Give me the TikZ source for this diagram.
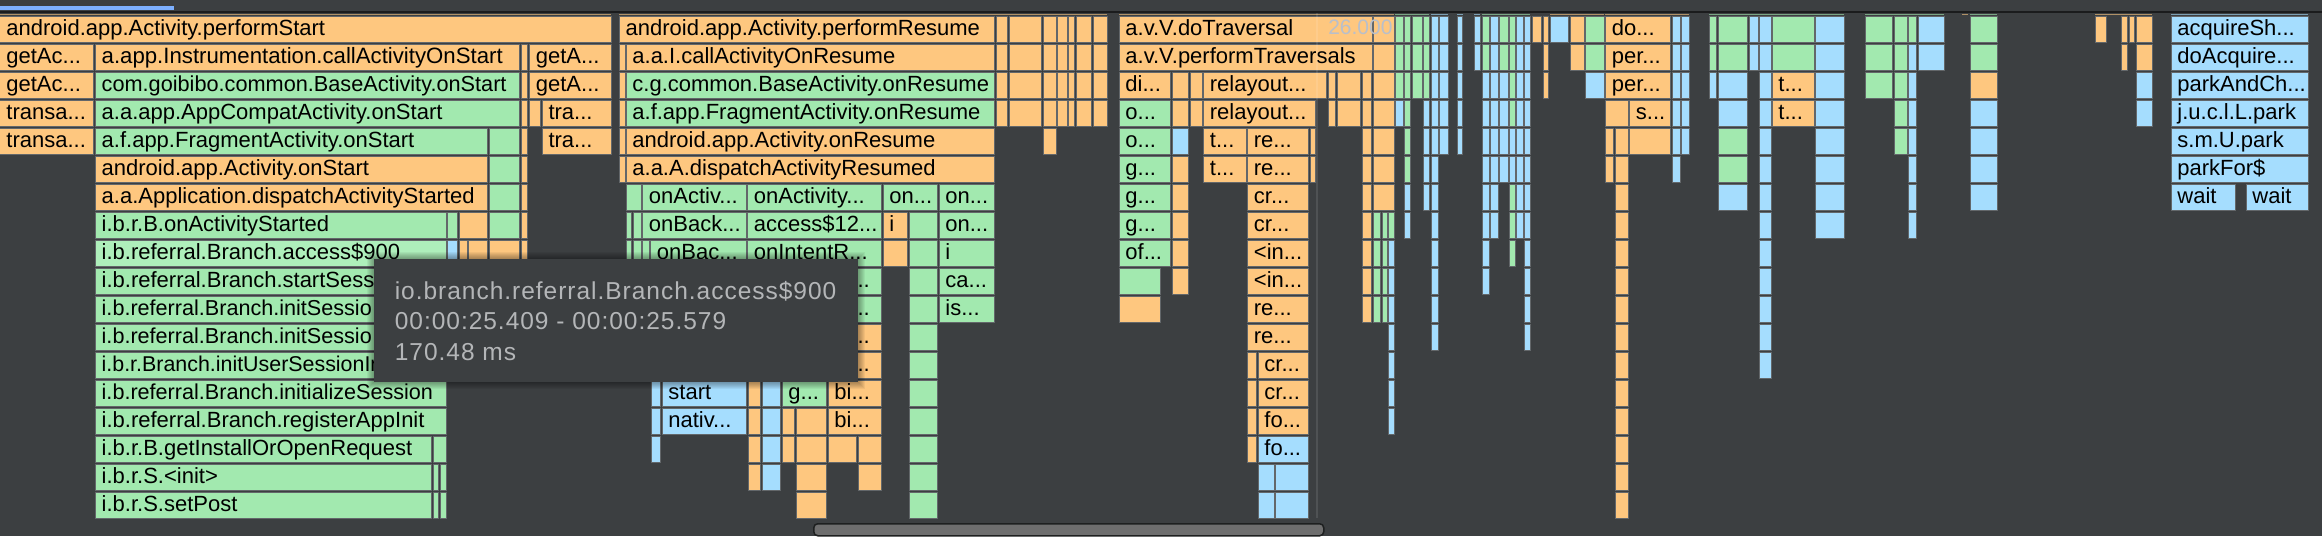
\documentclass[tikz,border=0pt]{standalone}
\usepackage{fontspec}
\setmainfont{Liberation Sans}
\newfontfamily\tipfont[LetterSpace=4]{Liberation Sans}
\definecolor{bgc}{HTML}{3C3F41}
\definecolor{co}{HTML}{FEC77F}
\definecolor{cg}{HTML}{A2E9AF}
\definecolor{ch}{HTML}{AEEFBB}
\definecolor{cb}{HTML}{A5DDFE}
\definecolor{edgec}{HTML}{63676A}
\definecolor{tipt}{HTML}{B4B6B8}
\definecolor{rulert}{HTML}{B8BFCB}
\definecolor{thumbc}{HTML}{6E6E6E}
\newcounter{barno}
\tikzset{
  barbox/.style={draw=edgec,line width=1pt,rectangle,anchor=north west,outer sep=0pt,inner sep=0pt,minimum height=26.8pt},
  barlab/.style={barbox,inner xsep=6.4pt,inner ysep=3pt,text height=16.6pt,text depth=4.2pt,align=left,font=\fontsize{22}{24}\selectfont,text=black},
  tipline/.style={anchor=base west,inner sep=0pt,text=tipt,font=\fontsize{24.5}{28}\tipfont}
}
\newcommand{\fs}[2]{{\fontsize{#1}{24}\selectfont #2}}
\newcommand{\fb}[4]{\stepcounter{barno}\pgfmathsetmacro\bw{#2-#1}\pgfmathsetmacro\by{16+28*#3}%
  \node[barbox,fill=#4,minimum width=\bw pt] (bar\thebarno) at (#1,\by) {};}
\newcommand{\lb}[5]{\stepcounter{barno}\pgfmathsetmacro\bw{#2-#1}\pgfmathsetmacro\tw{#2-#1-12.8}\pgfmathsetmacro\by{16+28*#3}%
  \node[barlab,fill=#4,text width=\tw pt] (bar\thebarno) at (#1,\by) {#5};}
\newcommand{\rw}[2]{\foreach \xa/\xb/\xc in {#2}{\fb{\xa}{\xb}{#1}{\xc}}}
\newcommand{\ts}[3]{\draw[#3!60!bgc,line width=1pt] (#1,14.6) -- (#2,14.6);}
\begin{document}
\begin{tikzpicture}[x=1pt,y=-1pt]
\useasboundingbox (0,0) rectangle (2322,536);
\fill[bgc] (0,0) rectangle (2322,536);
\fill[black!55!bgc] (0,11) rectangle (2322,12.6);
\fill[color={rgb,255:red,125;green,176;blue,255}] (0,6) rectangle (174,10);
\ts{0}{611}{co}\ts{619}{1107}{co}\ts{1119}{1394}{co}\ts{1395}{1429}{cg}\ts{1431}{1448}{cb}\ts{1457}{1463}{cb}\ts{1474}{1480}{cb}\ts{1482}{1530}{cg}\ts{1550}{1604}{co}\ts{1605}{1689}{co}\ts{1709}{1844}{cg}\ts{1865}{1944}{cg}\ts{1962}{1968}{co}\ts{1970}{1997}{cg}\ts{2095}{2152}{co}\ts{2171}{2308}{cb}
\begin{scope}
\clip (0,13) rectangle (2322,518);
% left block
\lb{-2}{611.3}{0}{co}{\hspace{2pt}android.app.Activity.performStart}
\lb{-2}{93.3}{1}{co}{\hspace{2pt}getAc...}
\lb{95.3}{519.2}{1}{co}{\fs{22.2}{a.app.Instrumentation.callActivityOnStart}}
\lb{529.5}{611.3}{1}{co}{getA...}
\lb{-2}{93.3}{2}{co}{\hspace{2pt}getAc...}
\lb{95.3}{519.2}{2}{cg}{\fs{21.7}{com.goibibo.common.BaseActivity.onStart}}
\lb{529.5}{611.3}{2}{co}{getA...}
\lb{-2}{93.3}{3}{co}{\hspace{2pt}transa...}
\lb{95.3}{519.2}{3}{cg}{a.a.app.AppCompatActivity.onStart}
\lb{542.1}{611.3}{3}{co}{tra...}
\lb{-2}{93.3}{4}{co}{\hspace{2pt}transa...}
\lb{95.3}{487.1}{4}{cg}{a.f.app.FragmentActivity.onStart}
\lb{542.1}{611.3}{4}{co}{tra...}
\lb{95.3}{487.1}{5}{co}{android.app.Activity.onStart}
\lb{95.3}{487.1}{6}{co}{a.a.Application.dispatchActivityStarted}
\lb{95.3}{446}{7}{cg}{i.b.r.B.onActivityStarted}
\lb{95.3}{446}{8}{ch}{i.b.referral.Branch.access\$900}
\lb{95.3}{446}{9}{cg}{i.b.referral.Branch.startSess}
\lb{95.3}{446}{10}{cg}{\fs{21.6}{i.b.referral.Branch.initSessio}}
\lb{95.3}{446}{11}{cg}{\fs{21.6}{i.b.referral.Branch.initSessio}}
\lb{95.3}{446}{12}{cg}{\fs{21.4}{i.b.r.Branch.initUserSessionIn}}
\lb{95.3}{446}{13}{cg}{\fs{21.6}{i.b.referral.Branch.initializeSession}}
\lb{95.3}{446}{14}{cg}{i.b.referral.Branch.registerAppInit}
\lb{95.3}{431.8}{15}{cg}{i.b.r.B.getInstallOrOpenRequest}
\lb{95.3}{431.8}{16}{cg}{i.b.r.S.<init>}
\lb{95.3}{431.8}{17}{cg}{i.b.r.S.setPost}
\rw{1}{521.2/527.9/co}
\rw{2}{521.2/527.9/co}
\rw{3}{521.2/527.9/co,529.5/540.5/co}
\rw{4}{489.1/519.2/cg,521.2/527.9/co}
\rw{5}{489.1/519.2/cg,521.2/527.9/co}
\rw{6}{489.1/519.2/cg,521.2/527.9/co}
\rw{7}{447.6/457.9/cg,459.5/487.1/co,489.1/519.2/cg,521.2/527.9/co}
\rw{8}{447.6/457.9/cb,459.5/467.1/co,468.5/487.1/co,489.1/519.2/co,521.2/527.9/co}
\rw{15}{433.4/446/cg}
\rw{16}{433.4/438.9/cg,440.5/446/cg}
\rw{17}{433.4/438.9/cg,440.5/446/cg}
% resume block
\lb{619.3}{994}{0}{co}{android.app.Activity.performResume}
\lb{626}{994}{1}{co}{a.a.I.callActivityOnResume}
\lb{626}{994}{2}{cg}{c.g.common.BaseActivity.onResume}
\lb{626}{994}{3}{cg}{a.f.app.FragmentActivity.onResume}
\lb{626}{994}{4}{co}{android.app.Activity.onResume}
\lb{626}{994}{5}{co}{a.a.A.dispatchActivityResumed}
\rw{0}{996/1007/co,1009/1041.5/co,1043/1056/co,1057/1067/co,1068/1074/co,1076/1091/co,1093/1107.5/co}
\rw{1}{619.3/625/co,996/1007/co,1009/1041.5/co,1043/1056/co,1057/1067/co,1068/1074/co,1076/1091/co,1093/1107.5/co}
\rw{2}{619.3/625/co,996/1007/co,1009/1041.5/co,1043/1056/co,1057/1067/co,1068/1074/co,1076/1091/co,1093/1107.5/co}
\rw{3}{619.3/625/co,996/1007/co,1009/1041.5/co,1043/1056/co,1057/1067/co,1068/1074/co,1076/1091/co,1093/1107.5/co}
\rw{4}{619.3/625/co,1043/1056/co}
\rw{5}{619.3/625/co}
\rw{6}{626/641/cg}
\lb{642.5}{746}{6}{cg}{onActiv...}
\lb{747.5}{881}{6}{cg}{onActivity...}
\lb{883}{937}{6}{cg}{on...}
\lb{939}{994}{6}{cg}{on...}
\rw{7}{626/631.5/cg,633/641/cg,909/937/cg}
\lb{642.5}{746}{7}{cg}{onBack...}
\lb{747.5}{881}{7}{cg}{access\$12...}
\lb{883}{907}{7}{co}{i}
\lb{939}{994}{7}{cg}{on...}
\rw{8}{626/631.5/cg,633/641/cg,642.5/649/cg,883/907/co,909/937/cg}
\lb{650.5}{746}{8}{cg}{onBac...}
\lb{747.5}{881}{8}{cg}{onIntentR...}
\lb{939}{994}{8}{cg}{i}
\lb{845}{881}{9}{cg}{...}
\rw{9}{909/937/cg}
\lb{939}{994}{9}{cg}{ca...}
\lb{845}{881}{10}{cg}{...}
\rw{10}{909/937/cg}
\lb{939}{994}{10}{cg}{is...}
\lb{845}{881}{11}{co}{...}
\rw{11}{909/937/cg}
\lb{845}{881}{12}{co}{...}
\rw{12}{909/937/cg}
\rw{13}{651/660/cb,748/760/co,762/780/cb,909/937/cg}
\lb{662}{746}{13}{cb}{start}
\lb{782}{826}{13}{cg}{g...}
\lb{828}{881}{13}{co}{bi...}
\rw{14}{651/660/cb,748/760/co,762/780/cb,782/794.5/co,796/826/co,909/937/cg}
\lb{662}{746}{14}{cb}{nativ...}
\lb{828}{881}{14}{co}{bi...}
\rw{15}{651/660/cb,748/760/co,762/780/cb,782/794.5/co,796/826/co,828/856.5/co,858/881/co,909/937/cg}
\rw{16}{748/760/co,762/780/cb,796/826/co,858/881/co,909/937/cg}
\rw{17}{796/826/co,909/937/cg}
% traversal block
\lb{1119}{1372}{0}{co}{a.v.V.doTraversal}
\lb{1119}{1372}{1}{co}{a.v.V.performTraversals}
\rw{0}{1373.5/1394/co,1395.5/1403/cg,1404.5/1410/cg,1412/1422/cg,1423/1429/cg,1431/1438/cb,1439.5/1448/cb,1457/1462.5/cb,1474/1480/cb,1482/1489/cg,1490/1498/cb,1499.5/1508/cg,1509/1515/cg,1516.5/1523/cb,1524/1530.5/cb,1532/1541/co,1543/1548.5/co,1550.7/1568/cb,1570/1584/co,1585.5/1604/cg,1672/1680/cb,1681.5/1689/cb,1709/1716/cg,1718/1747.5/cg,1749/1758/cb,1759.5/1771/cb,1772/1814/cg,1815.5/1844.5/cb,1865.5/1892/cg,1894/1907/cg,1908/1916.5/cg,1918/1944/cb,1970/1997.5/cg,2095.5/2106/co,2121/2127/co,2129/2134/co,2136.5/2152/co}
\rw{1}{1373.5/1394/co,1395.5/1403/cg,1404.5/1410/cg,1412/1422/cg,1423/1429/cg,1431/1438/cb,1439.5/1448/cb,1457/1462.5/cb,1474/1480/cb,1482/1489/cg,1490/1498/cb,1499.5/1508/cg,1509/1515/cg,1516.5/1523/cb,1524/1530.5/cb,1543/1548.5/co,1570/1584/co,1585.5/1604/cg,1672/1680/cb,1681.5/1689/cb,1709/1716/cg,1718/1747.5/cg,1749/1758/cb,1759.5/1771/cb,1772/1814/cg,1815.5/1844.5/cb,1865.5/1892/cg,1894/1907/cg,1908/1916.5/cb,1918/1944/cb,1970/1997.5/cg,2121/2127/co,2136.5/2152/co}
\lb{1605.5}{1670}{0}{co}{do...}
\lb{1605.5}{1670}{1}{co}{per...}
\lb{1605.5}{1670}{2}{co}{per...}
\lb{2171}{2308}{0}{cb}{acquireSh...}
\lb{2171}{2308}{1}{cb}{doAcquire...}
\lb{2171}{2308}{2}{cb}{parkAndCh...}
\lb{2171}{2308}{3}{cb}{j.u.c.l.L.park}
\lb{2171}{2308}{4}{cb}{s.m.U.park}
\lb{2171}{2308}{5}{cb}{parkFor\$}
\lb{2171}{2235}{6}{cb}{wait}
\lb{2246}{2308}{6}{cb}{wait}
\lb{1119}{1170}{2}{co}{di...}
\lb{1203.5}{1326}{2}{co}{relayout...}
\rw{2}{1172/1188/co,1190/1202/co,1328/1335.5/co,1337/1360/co,1362/1371.5/co,1373.5/1394/co,1395.5/1403/cg,1404.5/1410/cg,1412/1422/cg,1423/1429/cg,1431/1438/cb,1439.5/1448/cb,1457/1462.5/cb,1482/1489/cb,1490/1498/cb,1499.5/1508/cb,1509/1515/cg,1516.5/1523/cb,1524/1530.5/cb,1543/1548.5/co,1585.5/1604/cb,1672/1680/cb,1681.5/1689/cb,1709/1716/cb,1718/1747.5/cb,1759.5/1771/cb,1815.5/1844.5/cb,1865.5/1892/cg,1894/1907/cg,1908/1916.5/cb,1970/1997.5/co,2136.5/2152/cb}
\lb{1772}{1814}{2}{co}{t...}
\lb{1119}{1170}{3}{cg}{o...}
\lb{1203.5}{1315.5}{3}{co}{relayout...}
\lb{1629.5}{1670}{3}{co}{s...}
\lb{1772}{1814}{3}{co}{t...}
\rw{3}{1172/1188/co,1190/1202/co,1328/1335.5/co,1337/1360/co,1362/1371.5/co,1373.5/1394/co,1395.5/1403/cb,1404.5/1410/cg,1423/1429/cb,1431/1438/cb,1439.5/1448/cb,1457/1462.5/cb,1482/1489/cb,1490/1498/cb,1499.5/1508/cb,1509/1515/cg,1516.5/1523/cb,1524/1530.5/cb,1605.5/1628/co,1672/1680/cb,1681.5/1689/cb,1718/1747.5/cb,1759.5/1771/cb,1815.5/1844.5/cb,1894/1907/cg,1908/1916.5/cb,1970/1997.5/cb,2136.5/2152/cb}
\lb{1119}{1170}{4}{cg}{o...}
\lb{1203.5}{1246}{4}{co}{t...}
\lb{1247.5}{1308}{4}{co}{re...}
\rw{4}{1172/1188/cb,1310/1315.5/co,1362/1371.5/co,1373.5/1394/co,1404.5/1410/cg,1423/1429/cb,1431/1438/cb,1439.5/1448/cb,1457/1462.5/cb,1482/1489/cb,1490/1498/cb,1499.5/1508/cb,1509/1515/cb,1516.5/1523/cb,1524/1530.5/cb,1605.5/1613.5/co,1615/1628/co,1629.5/1670/co,1672/1680/cb,1681.5/1689/cb,1718/1747.5/cg,1759.5/1771/cb,1815.5/1844.5/cb,1894/1907/cg,1908/1916.5/cb,1970/1997.5/cb}
\lb{1119}{1170}{5}{cg}{g...}
\lb{1203.5}{1246}{5}{co}{t...}
\lb{1247.5}{1308}{5}{co}{re...}
\rw{5}{1172/1188/co,1310/1315.5/co,1362/1371.5/co,1373.5/1394/co,1404.5/1410/cg,1423/1429/cb,1431/1438/cb,1482/1489/cb,1490/1498/cb,1499.5/1508/cb,1509/1515/cb,1516.5/1523/cb,1524/1530.5/cb,1605.5/1613.5/co,1615/1628/co,1672/1680/cb,1718/1747.5/cg,1759.5/1771/cb,1815.5/1844.5/cb,1908/1916.5/cb,1970/1997.5/cb}
\lb{1119}{1170}{6}{cg}{g...}
\lb{1247.5}{1308}{6}{co}{cr...}
\rw{6}{1172/1188/co,1362/1371.5/co,1373.5/1394/co,1404.5/1410/cb,1423/1429/cb,1431/1438/cb,1482/1489/cb,1490/1498/cb,1509/1515/cg,1516.5/1523/cb,1524/1530.5/cb,1615/1628/co,1718/1747.5/cb,1759.5/1771/cb,1815.5/1844.5/cb,1908/1916.5/cb,1970/1997.5/cb}
\lb{1119}{1170}{7}{cg}{g...}
\lb{1247.5}{1308}{7}{co}{cr...}
\rw{7}{1172/1188/co,1362/1371.5/co,1373.5/1380/cg,1382/1387/cg,1388.5/1394/cg,1404.5/1410/cb,1431/1438/cb,1482/1489/cb,1490/1498/cb,1509/1515/cg,1516.5/1523/cb,1524/1530.5/cb,1615/1628/co,1759.5/1771/cb,1815.5/1844.5/cb,1908/1916.5/cb}
\lb{1119}{1170}{8}{cg}{of...}
\lb{1247.5}{1308}{8}{co}{<in...}
\rw{8}{1172/1188/co,1362/1371.5/co,1373.5/1380/cg,1382/1387/cg,1388.5/1394/cb,1431/1438/cb,1482/1489/cb,1509/1515/cg,1524/1530.5/cb,1615/1628/co,1759.5/1771/cb}
\lb{1247.5}{1308}{9}{co}{<in...}
\rw{9}{1119/1160/cg,1172/1188/co,1362/1371.5/co,1373.5/1380/cg,1382/1387/cg,1388.5/1394/cb,1431/1438/cb,1482/1489/cb,1524/1530.5/cb,1615/1628/co,1759.5/1771/cb}
\lb{1247.5}{1308}{10}{co}{re...}
\rw{10}{1119/1160/co,1362/1371.5/co,1373.5/1380/cg,1382/1387/cg,1388.5/1394/cb,1431/1438/cb,1524/1530.5/cb,1615/1628/co,1759.5/1771/cb}
\lb{1247.5}{1308}{11}{co}{re...}
\rw{11}{1388.5/1394/cb,1431/1438/cb,1524/1530.5/cb,1615/1628/co,1759.5/1771/cb}
\lb{1258}{1308}{12}{co}{cr...}
\rw{12}{1247.5/1256/co,1388.5/1394/cb,1615/1628/co,1759.5/1771/cb}
\lb{1258}{1308}{13}{co}{cr...}
\rw{13}{1247.5/1256/co,1388.5/1394/cb,1615/1628/co}
\lb{1258}{1308}{14}{co}{fo...}
\rw{14}{1247.5/1256/co,1388.5/1394/cb,1615/1628/co}
\lb{1258}{1308}{15}{cb}{fo...}
\rw{15}{1247.5/1256/co,1615/1628/co}
\rw{16}{1258/1274/cb,1275.5/1308/cb,1615/1628/co}
\rw{17}{1258/1274/cb,1275.5/1308/cb,1615/1628/co}
% time ruler
\fill[white,opacity=.1] (1316,12.6) rectangle (1318,518);
\node[anchor=base east,inner sep=0pt,text=rulert,font=\fontsize{21}{24}\selectfont] (rulerlabel) at (1392.7,34.3) {26.000};
\end{scope}
% tooltip
\foreach \k in {1,...,7}{\fill[black,opacity=.05] ({374-\k},{259-\k}) rectangle ({858+\k},{382+\k});}
\node[rectangle,fill=bgc,anchor=north west,inner sep=0pt,outer sep=0pt,minimum width=484pt,minimum height=123pt] (tip) at (374,259) {};
\node[tipline] (tip1) at (394.6,299.5) {io.branch.referral.Branch.access\$900};
\node[tipline] (tip2) at (394.6,329.5) {00:00:25.409 - 00:00:25.579};
\node[tipline] (tip3) at (394.6,360) {170.48 ms};
% scrollbar
\node[rectangle,rounded corners=4pt,fill=thumbc,draw=black!50!bgc,line width=1.5pt,anchor=north west,inner sep=0pt,minimum width=510pt,minimum height=12pt] (scrollthumb) at (813,523) {};
\end{tikzpicture}
\end{document}
